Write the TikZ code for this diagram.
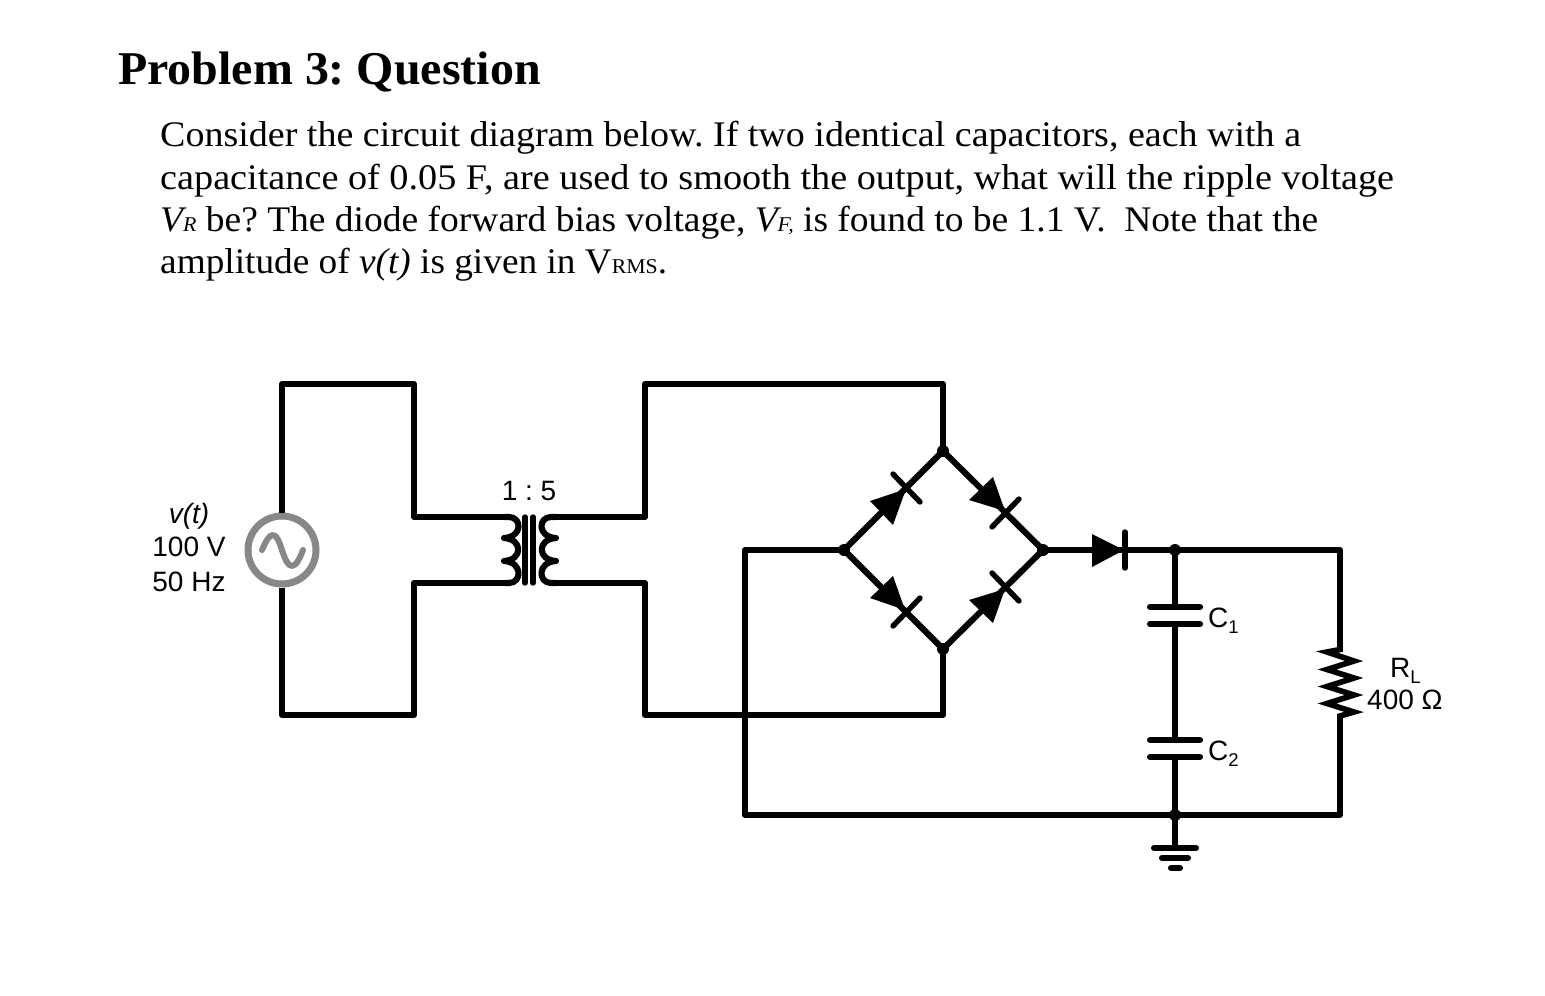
\documentclass[tikz,border=0pt]{standalone}
\usepackage{fontspec}
\setmainfont[FakeStretch=1.062]{Liberation Serif}
\newfontfamily\titlef[FakeStretch=1.02]{Liberation Serif}
\newfontfamily\lineAf[FakeStretch=1.056]{Liberation Serif}
\newfontfamily\lineCf[FakeStretch=1.042]{Liberation Serif}
\newfontfamily\lineDf[FakeStretch=1.036]{Liberation Serif}
\newfontfamily\arialf{Liberation Sans}
\frenchspacing
\newcommand{\bodyfs}{\fontsize{36}{40}\selectfont}
\newcommand{\smallfs}{\fontsize{21}{24}\selectfont}
\newcommand{\subsc}[1]{\raisebox{-6pt}{\fontsize{18.5}{20}\selectfont #1}}
\tikzset{
  wire/.style={line width=6.1pt,line cap=round,line join=round,black},
  thinwire/.style={line width=5.4pt,line cap=round,line join=round,black},
  zig/.style={line width=5.6pt,line cap=butt,line join=miter,black},
  dfill/.style={fill=black,draw=none},
  dot/.style={circle,fill=black,inner sep=0pt,minimum size=12pt},
  bodytext/.style={anchor=base west,inner sep=0pt,font=\bodyfs},
  lab/.style={inner sep=0pt,font=\arialf\fontsize{28}{30}\selectfont},
}
\begin{document}
\begin{tikzpicture}[x=1pt,y=-1pt]
\useasboundingbox[fill=white] (0,0) rectangle (1545,996);
% text
\node[anchor=base west,inner sep=0pt,font=\titlef\fontsize{47}{50}\selectfont\bfseries] (title) at (118,84) {Problem 3: Question};
\node[bodytext] (l1) at (160,146) {\lineAf Consider the circuit diagram below. If two identical capacitors, each with a};
\node[bodytext] (l2) at (160,189) {capacitance of 0.05 F, are used to smooth the output, what will the ripple voltage};
\node[bodytext] (l3) at (160,231) {\lineCf\textit{V{\smallfs R}} be? The diode forward bias voltage, \textit{V{\smallfs F,}} is found to be 1.1 V.\ \ Note that the};
\node[bodytext] (l4) at (160,273) {\lineDf amplitude of \textit{v(t)} is given in V{\smallfs RMS}.};
% coordinates
\coordinate (s1) at (282,384); \coordinate (s2) at (414,384); \coordinate (s3) at (414,517); \coordinate (pt) at (505,517);
\coordinate (s4) at (282,715); \coordinate (s5) at (414,715); \coordinate (s6) at (414,583); \coordinate (pb) at (505,583);
\coordinate (qt) at (555,517); \coordinate (q1) at (645,517); \coordinate (q2) at (645,384); \coordinate (q3) at (943,384);
\coordinate (qb) at (555,583); \coordinate (q4) at (645,583); \coordinate (q5) at (645,715); \coordinate (q6) at (943,715);
\coordinate (bt) at (943,451); \coordinate (bl) at (844,550); \coordinate (br) at (1043,550); \coordinate (bb) at (943,649);
\coordinate (jc) at (1175,550); \coordinate (o1) at (1340,550); \coordinate (rt) at (1340,648); \coordinate (rb) at (1340,717);
\coordinate (o2) at (1340,815); \coordinate (jg) at (1175,815); \coordinate (g1) at (1175,848); \coordinate (r1) at (745,550); \coordinate (r2) at (745,815);
\coordinate (c1a) at (1175,607); \coordinate (c1b) at (1175,624); \coordinate (c2a) at (1175,740); \coordinate (c2b) at (1175,757);
% source
\node[circle,draw=black!47,line width=7pt,fill=white,minimum size=68pt,inner sep=0pt] (src) at (282,550) {};
\draw[draw=black!47,line width=6pt,line cap=round,line join=round] (262,550) .. controls (266,541) and (269,535) .. (273,535) .. controls (281,535) and (283,566) .. (292,566) .. controls (296,566) and (300,558) .. (303,550);
% wires
\draw[wire,line cap=butt] (src.north) -- (s1) -- (s2) -- (s3) -- (pt);
\draw[wire,line cap=butt] (src.south) -- (s4) -- (s5) -- (s6) -- (pb);
\draw[wire] (qt) -- (q1) -- (q2) -- (q3) -- (bt);
\draw[wire] (qb) -- (q4) -- (q5) -- (q6) -- (bb);
\draw[wire] (bl) -- (bt) -- (br) -- (bb) -- (bl);
\draw[wire] (bl) -- (r1) -- (r2) -- (jg) -- (o2) -- (rb);
\draw[wire] (br) -- (jc) -- (o1) -- (rt);
\draw[wire] (jc) -- (c1a); \draw[wire] (c1b) -- (c2a); \draw[wire] (c2b) -- (jg) -- (g1);
% transformer
\draw[wire] (pt) -- (509,517) .. controls (522,517) and (523,537) .. (504,538) .. controls (523,539) and (523,560) .. (504,561) .. controls (523,562) and (522,583) .. (509,583) -- (pb);
\draw[wire] (qt) -- (551,517) .. controls (538,517) and (537,537) .. (556,538) .. controls (537,539) and (537,560) .. (556,561) .. controls (537,562) and (538,583) .. (551,583) -- (qb);
\draw[thinwire] (525,517) -- (525,583);
\draw[thinwire] (533,517) -- (533,583);
% bridge diodes
\fill[dfill] (906,489) -- (870,501) -- (893,525) -- cycle;
\draw[thinwire] (893,474) -- (920,502);
\fill[dfill] (1005,511) -- (969,500) -- (993,477) -- cycle;
\draw[thinwire] (992,527) -- (1019,499);
\fill[dfill] (905,610) -- (870,598) -- (893,576) -- cycle;
\draw[thinwire] (893,626) -- (920,598);
\fill[dfill] (1005,589) -- (969,600) -- (993,623) -- cycle;
\draw[thinwire] (992,573) -- (1019,601);
% series diode
\fill[dfill] (1124,550) -- (1092,534) -- (1092,567) -- cycle;
\draw[thinwire] (1125,532) -- (1125,568);
% dots
\node[dot] (dbt) at (bt) {}; \node[dot] (dbl) at (bl) {}; \node[dot] (dbr) at (br) {}; \node[dot] (dbb) at (bb) {};
\node[dot] (djc) at (jc) {}; \node[dot] (djg) at (jg) {};
% capacitors
\draw[wire] (1150,607) -- (1200,607); \draw[wire] (1150,624) -- (1200,624);
\draw[wire] (1150,740) -- (1200,740); \draw[wire] (1150,757) -- (1200,757);
% ground
\draw[wire] (1154,848) -- (1196,848); \draw[wire] (1162,858) -- (1188,858); \draw[wire] (1171,868) -- (1180,868);
% resistor
\draw[zig] (rt) -- (1340,649.5) -- (1327,652) -- (1354,661) -- (1327,669.5) -- (1354,678) -- (1327,686.5) -- (1354,695) -- (1327,703.5) -- (1354,712) -- (1340,716) -- (rb);
% labels
\node[lab,anchor=base] (lv) at (189,523) {\textit{v(t)}};
\node[lab,anchor=base] (la) at (189,556) {100 V};
\node[lab,anchor=base] (lf) at (189,591) {50 Hz};
\node[lab,anchor=base] (lt) at (529,500) {1 : 5};
\node[lab,anchor=base west] (lc1) at (1208,627) {C\subsc{1}};
\node[lab,anchor=base west] (lc2) at (1208,760) {C\subsc{2}};
\node[lab,anchor=base west] (lr) at (1390,677) {R\subsc{L}};
\node[lab,anchor=base west] (lo) at (1367,709) {400 Ω};
\end{tikzpicture}
\end{document}
